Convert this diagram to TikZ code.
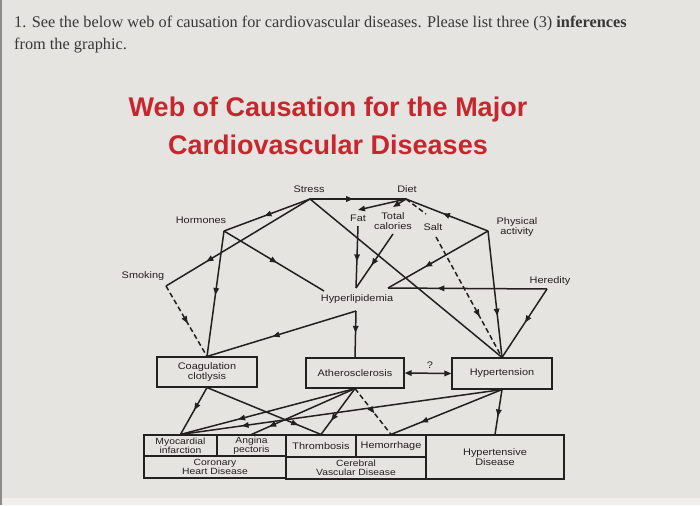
\documentclass[tikz,border=0pt]{standalone}
\usepackage{fontspec}
\setmainfont{Liberation Serif}
\newfontfamily\df[FakeStretch=1.15]{Liberation Sans}
\newfontfamily\tf{Liberation Sans}
\usetikzlibrary{arrows.meta,decorations.markings}
\definecolor{paper}{RGB}{230,228,224}
\definecolor{ink}{RGB}{35,32,32}
\definecolor{qink}{RGB}{55,55,55}
\definecolor{titred}{RGB}{200,38,45}
\begin{document}
\begin{tikzpicture}[x=1pt,y=-1pt,
  conn/.style={draw=ink,line width=1.5pt},
  dconn/.style={conn,dash pattern=on 5pt off 3pt},
  ma/.style={postaction={decorate},decoration={markings,mark=at position #1 with {\arrow{Triangle[length=7pt,width=5.5pt]}}}},
  tip/.style={-{Triangle[length=7pt,width=5.5pt]}},
  lbl/.style={font=\df\fontsize{9.5}{10.5}\selectfont,text=ink,inner sep=0pt,align=center},
  bx/.style={draw=ink,line width=1.1pt,inner sep=0pt,align=center,font=\df\fontsize{9.5}{10}\selectfont,text=ink},
  sbx/.style={bx,font=\df\fontsize{9}{9.3}\selectfont},
]
\fill[paper] (0,0) rectangle (700,505);
\useasboundingbox (0,0) rectangle (700,505);
\fill[black!45] (0,0) rectangle (2,505);
\fill[paper!60!white] (2,498) rectangle (700,505);

% question text
\node[anchor=base west,inner sep=0pt,text=qink,font=\fontsize{16.3}{18}\selectfont] (q1) at (14,28) {1. See the below web of causation for cardiovascular diseases. Please list three (3) \textbf{inferences}};
\node[anchor=base west,inner sep=0pt,text=qink,font=\fontsize{16.3}{18}\selectfont] (q2) at (14,50) {from the graphic.};

% title
\node[text=titred,inner sep=0pt,font=\tf\bfseries\fontsize{27}{30}\selectfont] (t1) at (328,110) {Web of Causation for the Major};
\node[text=titred,inner sep=0pt,font=\tf\bfseries\fontsize{27}{30}\selectfont] (t2) at (328,145) {Cardiovascular Diseases};

% labels
\node[lbl] (stress) at (309,189) {Stress};
\node[lbl] (diet) at (407,189) {Diet};
\node[lbl] (horm) at (201,220) {Hormones};
\node[lbl] (smok) at (143,276) {Smoking};
\node[lbl] (fat) at (358,218) {Fat};
\node[lbl] (cal) at (393,221) {Total\\calories};
\node[lbl] (salt) at (433,227) {Salt};
\node[lbl] (phys) at (517,227) {Physical\\activity};
\node[lbl] (her) at (550,281) {Heredity};
\node[lbl] (hyl) at (357,299) {Hyperlipidemia};
\node[lbl] (qm) at (430,365) {?};

% junction points
\coordinate (S) at (310,199);
\coordinate (D) at (406,199);
\coordinate (H) at (224,231);
\coordinate (Sm) at (166,286);
\coordinate (Ftip) at (358,210);
\coordinate (Fb) at (358,226);
\coordinate (Ttip) at (393,207);
\coordinate (Tb) at (393,234);
\coordinate (Sa1) at (426,214);
\coordinate (Sa2) at (436,237);
\coordinate (P) at (488,231);
\coordinate (He) at (547,289);
\coordinate (HLa) at (324,291);
\coordinate (HLb) at (356,288);
\coordinate (HLc) at (388,288);
\coordinate (HLd) at (356,311);

% boxes
\node[bx,minimum width=100pt,minimum height=30pt] (coag) at (207,372) {Coagulation\\clotlysis};
\node[bx,minimum width=98pt,minimum height=30pt] (ath) at (355,373) {Atherosclerosis};
\node[bx,minimum width=100pt,minimum height=31pt] (hyp) at (502,373.5) {Hypertension};

\node[sbx,minimum width=73pt,minimum height=21pt] (mi) at (180.5,445.5) {Myocardial\\infarction};
\node[sbx,minimum width=69pt,minimum height=21pt] (ap) at (251.5,445.5) {Angina\\pectoris};
\node[sbx,minimum width=142pt,minimum height=22pt] (chd) at (215,467) {Coronary\\Heart Disease};
\node[bx,minimum width=70pt,minimum height=22pt] (th) at (321,446) {Thrombosis};
\node[bx,minimum width=70pt,minimum height=22pt] (hm) at (391,446) {Hemorrhage};
\node[sbx,minimum width=140pt,minimum height=22pt] (cvd) at (356,468) {Cerebral\\Vascular Disease};
\node[bx,minimum width=138pt,minimum height=44pt] (hd) at (495,457) {Hypertensive\\Disease};

% upper web
\draw[conn,ma=0.45] (S) -- (D);
\draw[conn,ma=0.53] (S) -- (H);
\draw[conn,ma=0.72] (S) -- (Sm);
\draw[conn] (S) -- (hyp.north);
\draw[conn,ma=0.53] (H) -- (HLa);
\draw[conn,ma=0.51] (H) -- (coag.north);
\draw[dconn,ma=0.53] (Sm) -- (coag.north);
\draw[conn,tip] (D) -- (Ftip);
\draw[conn,tip] (D) -- (Ttip);
\draw[dconn] (D) -- (Sa1);
\draw[dconn,ma=0.66] (Sa2) -- (hyp.north);
\draw[conn,ma=0.55] (P) -- (D);
\draw[conn,ma=0.67] (P) -- (hyp.north);
\draw[conn,ma=0.63] (P) -- (HLc);
\draw[conn,ma=0.69] (He) -- (HLc);
\draw[conn,ma=0.49] (He) -- (hyp.north);
\draw[conn,ma=0.57] (Fb) -- (HLb);
\draw[conn,ma=0.58] (Tb) -- (HLb);
\draw[conn,ma=0.47] (HLd) -- (ath.north);
\draw[conn,ma=0.56] (HLd) -- (coag.north);
\draw[conn,{Triangle[length=7pt,width=5.5pt]}-{Triangle[length=7pt,width=5.5pt]}] (ath.east) -- (hyp.west);

% lower web
\draw[conn,ma=0.48] (coag.south) -- (mi.north);
\draw[conn,ma=0.8] (coag.south) -- (th.north);
\draw[conn,ma=0.67] (ath.south) -- (mi.north);
\draw[conn,ma=0.81] (hyp.south) -- (mi.north);
\draw[conn,ma=0.83] (ath.south) -- (ap.north);
\draw[conn,ma=0.7] (ath.south) -- (th.north);
\draw[dconn,ma=0.54] (ath.south) -- (hm.north);
\draw[conn,ma=0.73] (hyp.south) -- (hm.north);
\draw[conn,ma=0.6] (hyp.south) -- (hd.north);
\end{tikzpicture}
\end{document}
